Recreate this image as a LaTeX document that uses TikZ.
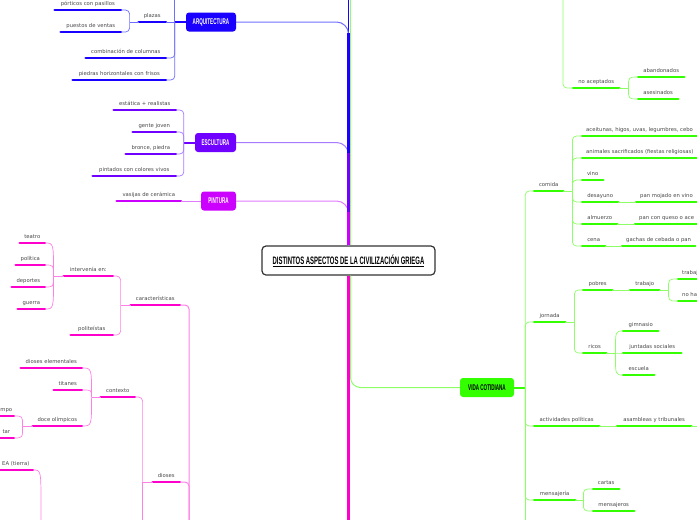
\documentclass[tikz,border=0pt]{standalone}
\usepackage{fontspec}
\usepackage{tikz}
\usetikzlibrary{positioning}
\newfontfamily\lblfont{DejaVu Sans}
\newfontfamily\hdfont[FakeStretch=0.55]{Liberation Sans}
\newcommand\lbl{\lblfont\fontsize{5.3pt}{6pt}\selectfont}
\definecolor{bl}{HTML}{1A00FF}
\definecolor{bll}{HTML}{6E6EFF}
\definecolor{pu}{HTML}{7000FF}
\definecolor{pul}{HTML}{A77BFF}
\definecolor{mg}{HTML}{CC00FF}
\definecolor{mgl}{HTML}{E07BFF}
\definecolor{pk}{HTML}{FF00CC}
\definecolor{pkl}{HTML}{FF80E6}
\definecolor{gr}{HTML}{33FF00}
\definecolor{grl}{HTML}{8CFF66}
\definecolor{txt}{HTML}{474747}
\definecolor{dk}{HTML}{333333}

\begin{document}
\begin{tikzpicture}[
  x=1pt, y=-1pt,
  topic/.style={
    rectangle, rounded corners=3pt, fill=#1, text=white,
    font=\hdfont\bfseries\fontsize{8.3pt}{9pt}\selectfont,
    minimum height=19pt, inner xsep=3pt, inner ysep=0pt
  },
  lf/.style={
    font=\lbl, text=txt, inner xsep=0pt, inner ysep=2.6pt,
    text height=4pt, text depth=1.3pt,
    append after command={(\tikzlastnode.south west) edge[ul=#1] (\tikzlastnode.south east)}
  },
  ul/.style={draw=#1, line width=2.4pt, line cap=round},
  cn/.style={draw=#1, line width=0.7pt, rounded corners=4pt},
  thk/.style={draw=#1, line width=2pt},
]
\useasboundingbox (0,0) rectangle (697,520);
\clip (0,0) rectangle (697,520);

%% main topics
\node[draw=dk, line width=1.2pt, rounded corners=4pt, fill=white,
  minimum width=173pt, minimum height=29pt, inner sep=0pt,
  font=\hdfont\bfseries\fontsize{10.8pt}{12pt}\selectfont] (root) at (348.5,260.5)
  {\underline{DISTINTOS ASPECTOS DE LA CIVILIZACIÓN GRIEGA}};
\node[topic=bl, minimum width=50pt] (arq) at (211,22) {ARQUITECTURA};
\node[topic=pu, minimum width=41pt] (esc) at (215.5,142.5) {ESCULTURA};
\node[topic=mg, minimum width=35pt] (pnt) at (218.5,201) {PINTURA};
\node[topic=gr, text=black, minimum width=54pt] (vida) at (487,387.5) {VIDA COTIDIANA};

%% arquitectura
\node[lf=bl, anchor=south east, minimum width=27pt] (plz) at (166,22) {plazas};
\node[lf=bl, anchor=south east, minimum width=66pt] (por) at (121,10) {pórticos con pasillos};
\node[lf=bl, anchor=south east, minimum width=60pt] (pue) at (121,32) {puestos de ventas};
\node[lf=bl, anchor=south east, minimum width=80pt] (col) at (166,58) {combinación de columnas};
\node[lf=bl, anchor=south east, minimum width=93pt] (pie) at (166,80) {piedras horizontales con frisos};

%% escultura
\node[lf=pu, anchor=south east, minimum width=62pt] (est) at (176,110) {estática + realistas};
\node[lf=pu, anchor=south east, minimum width=43pt] (gen) at (176,132) {gente joven};
\node[lf=pu, anchor=south east, minimum width=50pt] (bro) at (176,154) {bronce, piedra};
\node[lf=pu, anchor=south east, minimum width=83pt] (pvv) at (176,176) {pintados con colores vivos};

%% pintura
\node[lf=mg, anchor=south east, minimum width=64pt] (vas) at (181,201) {vasijas de cerámica};

%% religion (below)
\node[lf=pk, anchor=south east, minimum width=49pt] (car) at (180,305) {características};
\node[lf=pk, anchor=south east, minimum width=49pt] (int) at (113,276) {intervenía en:};
\node[lf=pk, anchor=south east, minimum width=42pt] (plt) at (113,335) {politeístas};
\node[lf=pk, anchor=south east, minimum width=25pt] (tea) at (45,243) {teatro};
\node[lf=pk, anchor=south east, minimum width=29pt] (pol) at (45,265) {política};
\node[lf=pk, anchor=south east, minimum width=33pt] (dep) at (45,287) {deportes};
\node[lf=pk, anchor=south east, minimum width=27pt] (gue) at (45,309) {guerra};
\node[lf=pk, anchor=south east, minimum width=27pt] (dio) at (180,482) {dioses};
\node[lf=pk, anchor=south east, minimum width=34pt] (ctx) at (135,397) {contexto};
\node[lf=pk, anchor=south east, minimum width=61pt] (del) at (82,368) {dioses elementales};
\node[lf=pk, anchor=south east, minimum width=28pt] (tit) at (82,390) {titanes};
\node[lf=pk, anchor=south east, minimum width=49pt] (doc) at (82,426) {doce olímpicos};
\node[lf=pk, anchor=south east, minimum width=15pt] (olm) at (14,416) {mpo};
\node[lf=pk, anchor=south east, minimum width=15pt] (alt) at (14,438) {tar};
\node[lf=pk, anchor=south east, minimum width=34pt] (gea) at (33,470) {EA (tierra)};

%% vida cotidiana
\node[lf=gr, anchor=south west, minimum width=46pt] (nac) at (573,88) {no aceptados};
\node[lf=gr, anchor=south west, minimum width=46pt] (aba) at (638,77) {abandonados};
\node[lf=gr, anchor=south west, minimum width=40pt] (ase) at (638,99) {asesinados};
\node[lf=gr, anchor=south west, minimum width=29pt] (com) at (534,191) {comida};
\node[lf=gr, anchor=south west, inner xsep=4pt] (ace) at (582,136) {aceitunas, higos, uvas, legumbres, cebo};
\node[lf=gr, anchor=south west, inner xsep=4pt] (ani) at (582,158) {animales sacrificados (fiestas religiosas)};
\node[lf=gr, anchor=south west, minimum width=21pt] (vin) at (582,180) {vino};
\node[lf=gr, anchor=south west, minimum width=36pt] (des) at (582,202) {desayuno};
\node[lf=gr, anchor=south west, inner xsep=4pt] (pmv) at (636,202) {pan mojado en vino};
\node[lf=gr, anchor=south west, minimum width=35pt] (alm) at (582,224) {almuerzo};
\node[lf=gr, anchor=south west, inner xsep=4pt] (pcq) at (635,224) {pan con queso o ace};
\node[lf=gr, anchor=south west, minimum width=23pt] (cna) at (582,246) {cena};
\node[lf=gr, anchor=south west, inner xsep=4pt] (gac) at (622,246) {gachas de cebada o pan};
\node[lf=gr, anchor=south west, minimum width=31pt] (jor) at (534,322) {jornada};
\node[lf=gr, anchor=south west, minimum width=29pt] (pob) at (583,290) {pobres};
\node[lf=gr, anchor=south west, minimum width=29pt] (tra) at (630,290) {trabajo};
\node[lf=gr, anchor=south west, inner xsep=4pt] (trb) at (678,279) {trabaj};
\node[lf=gr, anchor=south west, inner xsep=4pt] (nha) at (678,301) {no ha};
\node[lf=gr, anchor=south west, minimum width=23pt] (ric) at (583,353) {ricos};
\node[lf=gr, anchor=south west, minimum width=35pt] (gim) at (623,331) {gimnasio};
\node[lf=gr, anchor=south west, minimum width=58pt] (jun) at (623,353) {juntadas sociales};
\node[lf=gr, anchor=south west, minimum width=31pt] (esl) at (623,375) {escuela};
\node[lf=gr, anchor=south west, minimum width=65pt] (act) at (534,426) {actividades políticas};
\node[lf=gr, anchor=south west, minimum width=74pt] (asa) at (617,426) {asambleas y tribunales};
\node[lf=gr, anchor=south west, minimum width=41pt] (men) at (534,500) {mensajería};
\node[lf=gr, anchor=south west, minimum width=26pt] (cts) at (593,489) {cartas};
\node[lf=gr, anchor=south west, minimum width=41pt] (mjs) at (593,511) {mensajeros};

%% spine, upwards
\draw[line width=1pt, grl] ([xshift=2pt]root.north) -- ++(0,-246);
\draw[line width=1.6pt, bl] (root.north) -- ++(0,-246);
\draw[cn=bll, line width=1pt, rounded corners=12pt] (root.north) |- (arq.east);
\draw[cn=pul, line width=1pt, rounded corners=12pt] (root.north) |- (esc.east);
\draw[cn=mgl, line width=1pt, rounded corners=12pt] (root.north) |- (pnt.east);
\draw[line width=3pt, bl] (root.north) -- ++(0,-212);
\draw[line width=3pt, pu] (root.north) -- ++(0,-92);
\draw[line width=3pt, mg] (root.north) -- ++(0,-33);

%% spine, downwards
\draw[cn=grl, line width=1pt, rounded corners=10pt] ([xshift=2pt]root.south) |- (vida.west);
\draw[line width=3pt, pk] (root.south) -- ++(0,246);

%% arquitectura links
\draw[thk=bl] (arq.west) -- ++(-11,0) coordinate (aj);
\draw[cn=bll] (aj) -- (plz.south east);
\draw[cn=bll] (aj) |- (col.south east);
\draw[cn=bll] (aj) |- (pie.south east);
\draw[cn=bll] (aj) -- ++(0,-30);
\draw[cn=bll] (plz.south west) -- ++(-9,0) coordinate (pj);
\draw[cn=bll] (pj) |- (por.south east);
\draw[cn=bll] (pj) |- (pue.south east);

%% escultura links
\draw[thk=pu] (esc.west) -- ++(-11,0) coordinate (ej);
\foreach \n in {est,gen,bro,pvv}
  \draw[cn=pul] (ej) |- (\n.south east);

%% pintura link
\draw[cn=mgl, line width=1pt] (pnt.west) -- (vas.south east);

%% religion links
\draw[cn=pkl, line width=1pt] (car.south east) -| ++(9,230);
\draw[cn=pkl, line width=1pt] (dio.south east) -| ++(9,50);
\draw[cn=pkl] (car.south west) -- ++(-10,0) coordinate (kj);
\draw[cn=pkl] (kj) |- (int.south east);
\draw[cn=pkl] (kj) |- (plt.south east);
\draw[cn=pkl] (int.south west) -- ++(-10,0) coordinate (ij);
\foreach \n in {tea,pol,dep,gue}
  \draw[cn=pkl] (ij) .. controls (ij |- \n.south east) .. (\n.south east);
\draw[cn=pkl] (dio.south west) -- ++(-10,0) coordinate (dj);
\draw[cn=pkl] (dj) |- (ctx.south east);
\draw[cn=pkl] (dj) -- ++(0,50);
\draw[cn=pkl] (ctx.south west) -- ++(-9,0) coordinate (xj);
\foreach \n in {del,tit,doc}
  \draw[cn=pkl] (xj) .. controls (xj |- \n.south east) .. (\n.south east);
\draw[cn=pkl] (doc.south west) -- ++(-10,0) coordinate (oj);
\foreach \n in {olm,alt}
  \draw[cn=pkl] (oj) .. controls (oj |- \n.south east) .. (\n.south east);
\draw[cn=pkl] (gea.south east) .. controls ([xshift=8pt]gea.south east)
  .. ([xshift=8pt,yshift=-40pt]gea.south east) -- ++(0,20);

%% vida cotidiana links
\draw[thk=gr] (vida.east) -- ++(11,0) coordinate (vj);
\foreach \n in {com,jor,act,men}
  \draw[cn=grl] (vj) |- (\n.south west);
\draw[cn=grl] (vj) -- ++(0,140);
\draw[cn=grl] (nac.south west) -| ++(-10,-100);
\draw[cn=grl] (nac.south east) -- ++(9,0) coordinate (nj);
\foreach \n in {aba,ase}
  \draw[cn=grl] (nj) .. controls (nj |- \n.south west) .. (\n.south west);
\draw[cn=grl] (com.south east) -- ++(9,0) coordinate (cj);
\foreach \n in {ace,ani,vin,des,alm,cna}
  \draw[cn=grl] (cj) |- (\n.south west);
\draw[cn=grl] (des.south east) -- (pmv.south west);
\draw[cn=grl] (alm.south east) -- (pcq.south west);
\draw[cn=grl] (cna.south east) -- (gac.south west);
\draw[cn=grl] (jor.south east) -- ++(9,0) coordinate (jj);
\draw[cn=grl] (jj) |- (pob.south west);
\draw[cn=grl] (jj) |- (ric.south west);
\draw[cn=grl] (pob.south east) -- (tra.south west);
\draw[cn=grl] (tra.south east) -- ++(9,0) coordinate (tj);
\foreach \n in {trb,nha}
  \draw[cn=grl] (tj) .. controls (tj |- \n.south west) .. (\n.south west);
\draw[cn=grl] (ric.south east) -- ++(9,0) coordinate (rj);
\foreach \n in {gim,jun,esl}
  \draw[cn=grl] (rj) .. controls (rj |- \n.south west) .. (\n.south west);
\draw[cn=grl] (act.south east) -- (asa.south west);
\draw[cn=grl] (asa.south east) -- ++(10,0);
\draw[cn=grl] (men.south east) -- ++(8,0) coordinate (mj);
\draw[cn=grl] (mj) |- (cts.south west);
\draw[cn=grl] (mj) |- (mjs.south west);
\end{tikzpicture}
\end{document}
